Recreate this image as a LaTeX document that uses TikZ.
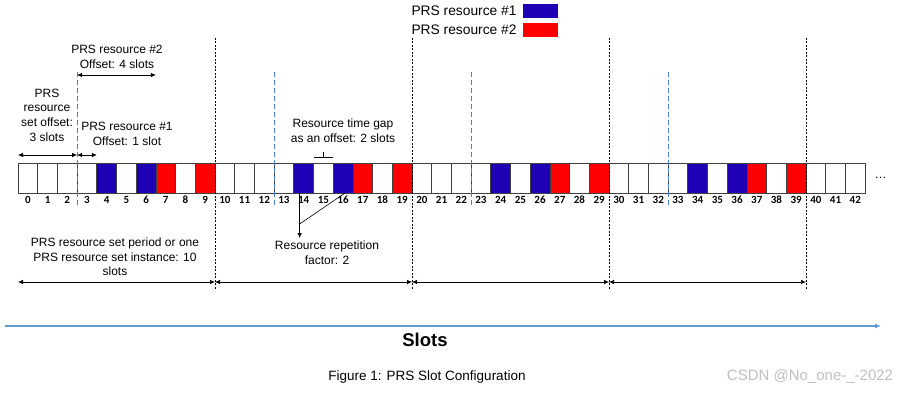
\documentclass[tikz,border=0pt]{standalone}
\usepackage{fontspec}
\setmainfont{Liberation Sans}
\newfontfamily\numfont{Carlito}
\usetikzlibrary{arrows.meta, calc, positioning}
\definecolor{prsblue}{RGB}{31,0,180}
\definecolor{prsred}{RGB}{255,0,0}
\definecolor{axisblue}{RGB}{91,155,213}
\tikzset{
  slot/.style={draw=black!75, line width=0.8pt, minimum width=19.7pt, minimum height=30pt, inner sep=0pt, outer sep=0pt},
  slotnum/.style={font=\numfont\bfseries\fontsize{11}{11}\selectfont, inner sep=0pt},
  lbl/.style={font=\fontsize{12}{14.6}\selectfont, align=center, inner sep=0pt},
  legbox/.style={minimum width=35pt, minimum height=14pt, inner sep=0pt},
  span/.style={{Latex[length=5pt,width=4.5pt]}-{Latex[length=5pt,width=4.5pt]}, line width=0.7pt},
  period/.style={dash pattern=on 2pt off 1.5pt, line width=0.6pt},
  subperiod/.style={draw=axisblue!80!blue, dash pattern=on 5pt off 3pt, line width=0.6pt},
}
\begin{document}
\begin{tikzpicture}[x=1pt, y=-1pt]
    \useasboundingbox (0,0) rectangle (897,393);

    \foreach \i in {0,...,42}{
      \pgfmathtruncatemacro{\m}{mod(\i,10)}
      \def\fc{white}
      \ifnum\m=4 \def\fc{prsblue}\fi
      \ifnum\m=6 \def\fc{prsblue}\fi
      \ifnum\m=7 \def\fc{prsred}\fi
      \ifnum\m=9 \def\fc{prsred}\fi
      \node[slot, fill=\fc] (s\i) at ({27.85+19.7*\i},178) {};
      \node[slotnum, below=3pt of s\i] (n\i) {\i};
    }
    \node[right=6pt of s42, font=\fontsize{12}{12}\selectfont] (more) {\dots};

    \foreach \k in {10,20,30,40}
      \draw[period] ($(s\k.north west)+(0,-125)$) -- ($(s\k.south west)+(0,97)$);
    \foreach \k in {3,13,23,33}
      \draw[subperiod] ($(s\k.north west)+(0,-91)$) -- ($(s\k.south west)+(0,13)$);

    \node[legbox, fill=prsblue] (leg1) at (540.5,11) {};
    \node[legbox, fill=prsred] (leg2) at (540.5,30) {};
    \node[lbl, font=\fontsize{13.8}{14}\selectfont, left=6pt of leg1] (legt1) {PRS resource \#1};
    \node[lbl, font=\fontsize{13.8}{14}\selectfont, left=6pt of leg2] (legt2) {PRS resource \#2};

    \node[lbl] (setoff) at (47,115) {PRS\\resource\\set offset:\\3 slots};
    \node[lbl] (off2) at (117,57) {PRS resource \#2\\Offset: 4 slots};
    \node[lbl] (off1) at (127,134) {PRS resource \#1\\Offset: 1 slot};
    \node[lbl] (gap) at (343,131) {Resource time gap\\as an offset: 2 slots};
    \node[lbl] (rep) at (327,253) {Resource repetition\\factor: 2};
    \node[lbl] (inst) at (115,257) {PRS resource set period or one\\PRS resource set instance: 10\\slots};

    \draw[span] ($(s0.north west)+(0,-8)$) -- ($(s3.north west)+(0,-8)$);
    \draw[span] ($(s3.north west)+(0,-8)$) -- ($(s4.north west)+(0,-8)$);
    \draw[span] ($(s3.north west)+(0,-88)$) -- ($(s7.north west)+(0,-88)$);
    \foreach \a/\b in {0/10,10/20,20/30,30/40}
      \draw[span] ($(s\a.south west)+(0,89)$) -- ($(s\b.south west)+(0,89)$);

    \draw[line width=0.7pt] ($(s15.north west)+(0,-6)$) -- ($(s15.north east)+(0,-6)$);
    \draw[line width=0.7pt] ($(s15.north)+(0,-6)$) -- ++(0,-5);

    \coordinate (rj) at ($(s14.south)+(-4,31)$);
    \draw[line width=0.7pt, -{Latex[length=5pt,width=4.5pt]}] ($(s14.south)+(-4,0)$) -- ($(rj)+(0,14)$);
    \draw[line width=0.6pt] ($(s16.south)+(2,0)$) -- (rj);

    \coordinate (ax0) at (5,326);
    \coordinate (ax1) at (881,326);
    \draw[axisblue, line width=1.6pt, -{Latex[length=6pt,width=5pt]}] (ax0) -- (ax1);
    \node[font=\bfseries\fontsize{18.5}{18.5}\selectfont] (slots) at (425,340) {Slots};
    \node[font=\fontsize{13.5}{13.5}\selectfont] (cap) at (427,377) {Figure 1: PRS Slot Configuration};
    \node[font=\fontsize{15}{15}\selectfont, text=black!25] (mark) at (810,377) {CSDN @No\_one-\_-2022};
\end{tikzpicture}
\end{document}
